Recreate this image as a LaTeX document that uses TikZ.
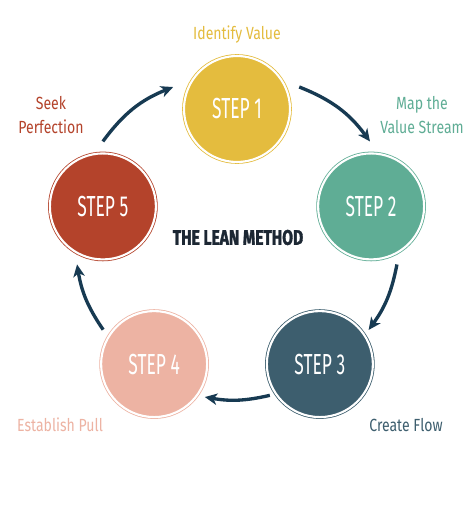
\documentclass[tikz,border=0pt]{standalone}
\usepackage{fontspec}
\setmainfont{Fira Sans}
\newfontfamily\stepfont[FakeStretch=0.6]{Fira Sans}
\newfontfamily\tagfont[FakeStretch=0.8]{Fira Sans}
\newfontfamily\headfont[FakeStretch=0.74, BoldFeatures={FakeBold=1.6}]{Fira Sans}
\usetikzlibrary{arrows.meta,positioning,calc}
\definecolor{mustard}{HTML}{E4BC3E}
\definecolor{sage}{HTML}{5FAD95}
\definecolor{slate}{HTML}{3D5E6E}
\definecolor{blush}{HTML}{EDB3A3}
\definecolor{rust}{HTML}{B4432B}
\definecolor{navy}{HTML}{173A52}
\definecolor{night}{HTML}{1C2733}
\newcommand{\Ring}{2.82}

\begin{document}
\begin{tikzpicture}[
    stepdisc/.style={circle, minimum size=2.12cm, inner sep=0pt, draw=#1, fill=#1, line width=0.45pt, double=white, double distance=1.2pt, text=white, font=\stepfont\fontsize{16.5}{18}\selectfont},
    tag/.style={text=#1, align=center, font=\tagfont\fontsize{10}{14}\selectfont},
    flow/.style={-{Stealth[length=7pt, width=6.5pt, inset=2pt]}, line width=1.9pt, draw=navy},
  ]
% --- Page ---------------------------------------------------------------------------
\fill[white] (0,0) rectangle (9.48,-10.10);
\coordinate (hub) at (4.74,-5.00);

% --- Steps, round the pentagon -----------------------------------------------------
\node[stepdisc=mustard] (s1) at ([shift={(90:\Ring)}]hub) {STEP 1};
\node[stepdisc=sage] (s2) at ([shift={(18:\Ring)}]hub) {STEP 2};
\node[stepdisc=slate] (s3) at ([shift={(-54:\Ring)}]hub) {STEP 3};
\node[stepdisc=blush] (s4) at ([shift={(-126:\Ring)}]hub) {STEP 4};
\node[stepdisc=rust] (s5) at ([shift={(162:\Ring)}]hub) {STEP 5};

\node[font=\headfont\bfseries\fontsize{12}{13}\selectfont, text=night] (title) at (4.76,-4.75) {THE LEAN METHOD};

% --- Tags ---------------------------------------------------------------------------
\node[tag=mustard] (t1) at (4.74,-0.70) {Identify Value};
\node[tag=sage] (t2) at (8.44,-2.30) {Map the\\Value Stream};
\node[tag=slate] (t3) at (8.12,-8.50) {Create Flow};
\node[tag=blush] (t4) at (1.20,-8.50) {Establish Pull};
\node[tag=rust] (t5) at (1.02,-2.30) {Seek\\Perfection};

% --- Arrows (clockwise, just off the discs) ------------------------------------------
\draw[flow] ([shift={(19.5:1.32)}]s1.center) to[bend left=16] ([shift={(91:1.30)}]s2.center);
\draw[flow] ([shift={(-66:1.27)}]s2.center) to[bend left=12.5] ([shift={(35:1.19)}]s3.center);
\draw[flow] ([shift={(-148:1.18)}]s3.center) to[bend left=11.5] ([shift={(-33:1.21)}]s4.center);
\draw[flow] ([shift={(146:1.23)}]s4.center) to[bend left=12.5] ([shift={(246:1.27)}]s5.center);
\draw[flow] ([shift={(90:1.30)}]s5.center) to[bend left=16] ([shift={(161:1.35)}]s1.center);
\end{tikzpicture}
\end{document}
